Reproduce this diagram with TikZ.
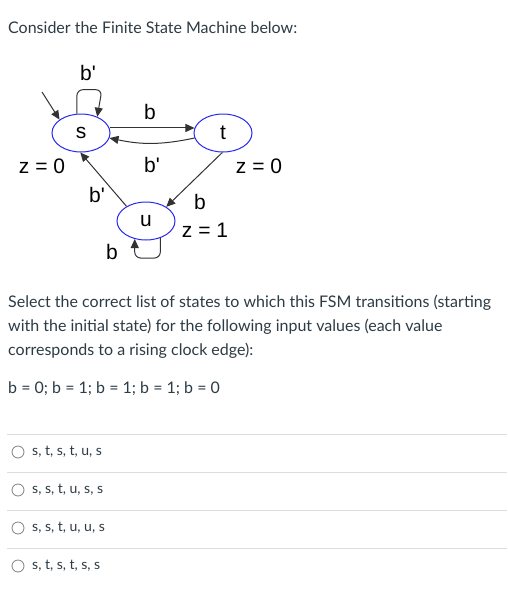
\documentclass[tikz,border=0pt]{standalone}
\usepackage{fontspec}
\setmainfont{Lato}
\newfontfamily\arialf{Liberation Sans}
\usetikzlibrary{arrows.meta,shapes.geometric}
\definecolor{canvastext}{RGB}{45,59,69}
\definecolor{sepgray}{RGB}{221,221,221}
\definecolor{stateblue}{RGB}{40,40,240}
\definecolor{edgegray}{RGB}{50,50,50}
\begin{document}
\begin{tikzpicture}[x=1pt,y=-1pt,
  state/.style={ellipse,draw=stateblue,line width=1pt,minimum width=58pt,minimum height=38pt,inner sep=0pt,font=\arialf\fontsize{21}{21}\selectfont},
  arr/.style={draw=edgegray,line width=1pt,-{Triangle[length=9pt,width=8pt]}},
  lbl/.style={font=\arialf\fontsize{21}{21}\selectfont,inner sep=0pt},
  para/.style={anchor=base west,inner sep=0pt,text=canvastext,font=\fontsize{16}{16}\selectfont},
  opt/.style={anchor=west,inner sep=0pt,text=canvastext,font=\fontsize{14}{14}\selectfont},
  sep/.style={draw=sepgray,line width=1pt},
  radio/.style={circle,draw=gray,line width=0.8pt,minimum size=12pt,inner sep=0pt}]
\useasboundingbox (0,0) rectangle (507,598);
\fill[white] (0,0) rectangle (507,598);
% title
\node[para] (title) at (8,33) {Consider the Finite State Machine below:};
% states
\node[state] (s) at (81,133) {s};
\node[state] (t) at (223,133) {t};
\node[state] (u) at (146,221) {u};
\coordinate (init) at (42,92);
% edges
\draw[arr] (init) -- (s.148);
\draw[arr,rounded corners=6pt] (s.102) -- ++(0,-24) -- ++(25,0) -- (s.45);
\draw[arr] (s.10) -- (t.170);
\draw[arr] (t.190) to[bend left=12] (s.350);
\draw[arr] (t.268) -- (u.35);
\draw[arr] (u.143) -- (s.268);
\draw[arr,rounded corners=6pt] (u.310) -- ++(0,20) -| (u.238);
% labels
\node[lbl] (l1) at (88,73) {b'};
\node[lbl] (l2) at (150,112) {b};
\node[lbl] (l3) at (152,165) {b'};
\node[lbl] (l4) at (42,166) {z = 0};
\node[lbl] (l5) at (259,166) {z = 0};
\node[lbl] (l6) at (97,195) {b'};
\node[lbl] (l7) at (200,202) {b};
\node[lbl] (l8) at (205,230) {z = 1};
\node[lbl] (l9) at (112,252) {b};
% question
\node[para] (q1) at (8,307) {Select the correct list of states to which this FSM transitions (starting};
\node[para] (q2) at (8,331) {with the initial state) for the following input values (each value};
\node[para] (q3) at (8,355) {corresponds to a rising clock edge):};
\node[para] (q4) at (8,393) {b = 0; b = 1; b = 1; b = 1; b = 0};
% options
\draw[sep] (7,434) -- (507,434);
\draw[sep] (7,472) -- (507,472);
\draw[sep] (7,510) -- (507,510);
\draw[sep] (7,548) -- (507,548);
\node[radio] (r1) at (18,452) {};
\node[radio] (r2) at (18,490) {};
\node[radio] (r3) at (18,528) {};
\node[radio] (r4) at (18,566) {};
\node[opt] (o1) at (32,452) {s, t, s, t, u, s};
\node[opt] (o2) at (32,490) {s, s, t, u, s, s};
\node[opt] (o3) at (32,528) {s, s, t, u, u, s};
\node[opt] (o4) at (32,566) {s, t, s, t, s, s};
\end{tikzpicture}
\end{document}
